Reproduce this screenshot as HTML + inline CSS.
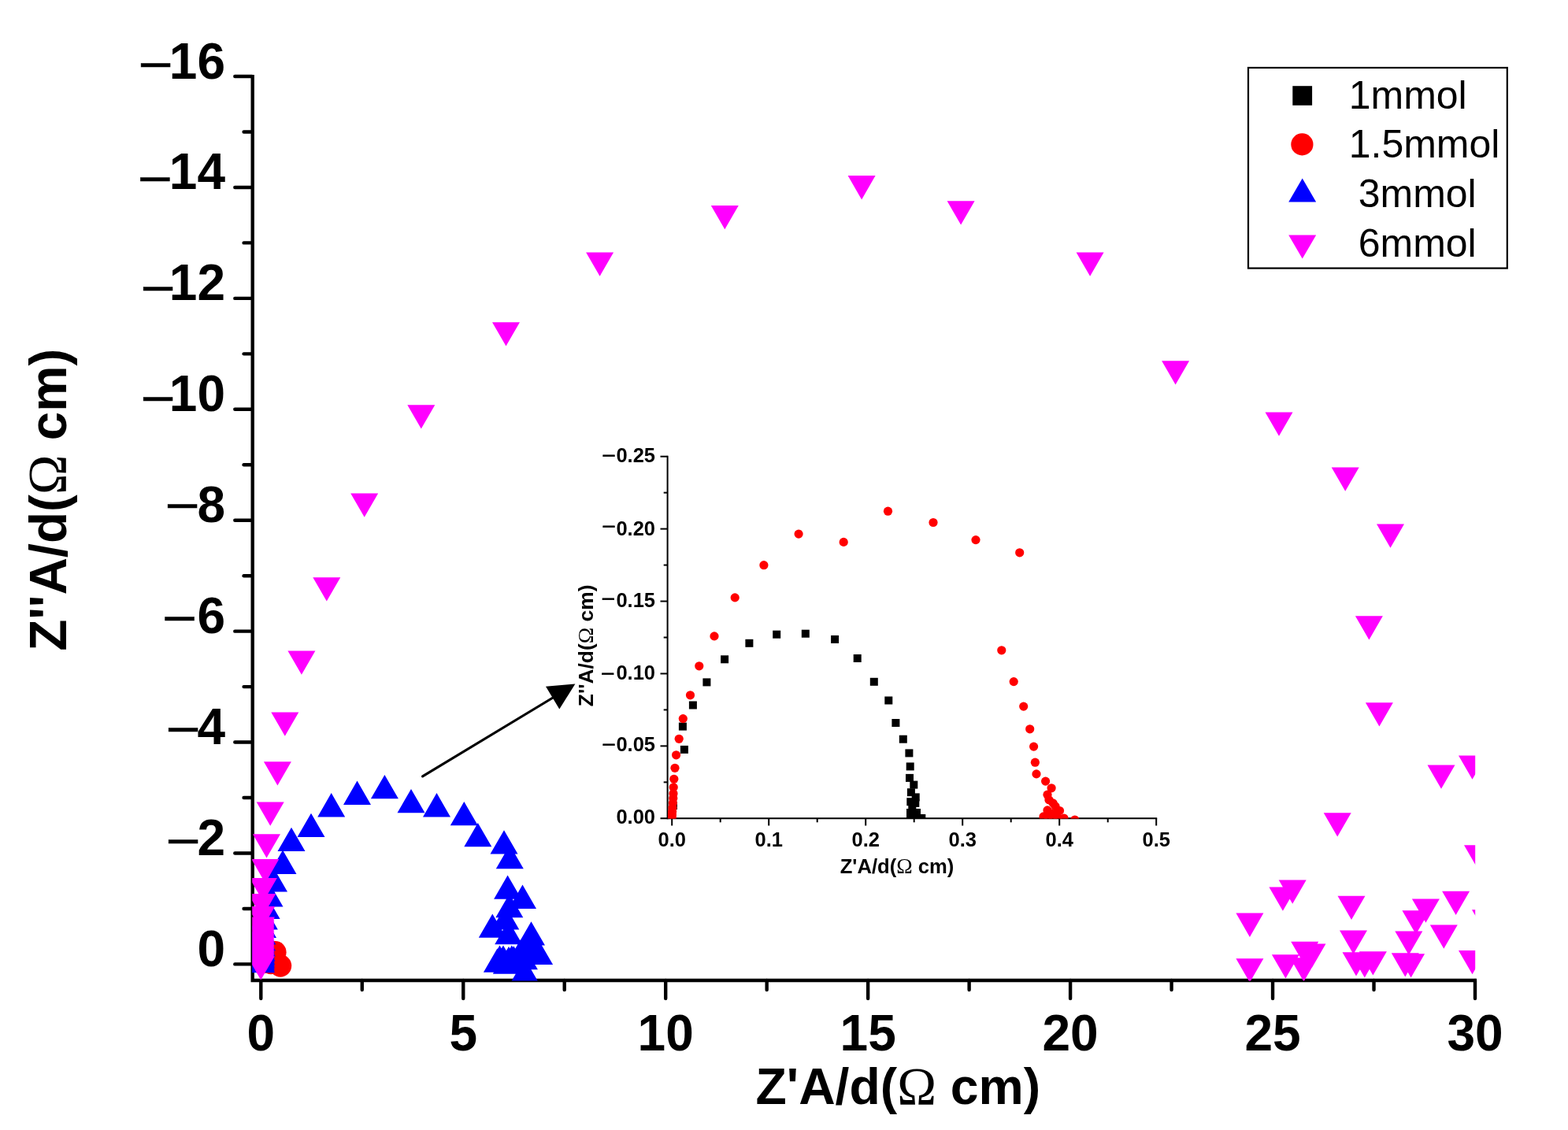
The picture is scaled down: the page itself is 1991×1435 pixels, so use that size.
<!DOCTYPE html>
<html lang="en"><head><meta charset="utf-8"><title>Nyquist plot</title>
<style>
html,body{margin:0;padding:0;background:#fff;}
body{width:1991px;height:1435px;overflow:hidden;}
svg{display:block;}
text{font-family:"Liberation Sans",sans-serif;fill:#000;}
.b{font-weight:700;}
.t{font-size:64px;}
.i{font-size:25.5px;}
.l{font-size:50px;}
.mn{font-weight:400;stroke:#000;stroke-width:0.5px;}
.mn2{font-weight:400;stroke:#000;stroke-width:0.6px;}
.om{font-family:"Liberation Serif","DejaVu Serif",serif;font-weight:400;}
.ax{stroke:#000;stroke-width:4.4;fill:none;}
.tk{stroke:#000;stroke-width:4.4;stroke-linecap:round;fill:none;}
.iax{stroke:#000;stroke-width:2;fill:none;}
.m{fill:#f0f;}.u{fill:#00f;}.r{fill:#f00;}.k{fill:#000;}
</style></head><body>
<svg width="1991" height="1435" viewBox="0 0 1991 1435">
<rect width="1991" height="1435" fill="#fff"/>
<defs>
<clipPath id="cm"><rect x="320.2" y="0" width="1553" height="1245.5"/></clipPath>
<clipPath id="ci"><rect x="847.8" y="500" width="700" height="539.6"/></clipPath>
</defs>
<g class="ax">
<path d="M320.7 95 V1245 H1875"/>
</g>
<g class="tk">
<path d="M298.3 1224.4 H320"/>
<path d="M309.6 1153.94 H320"/>
<path d="M298.3 1083.48 H320"/>
<path d="M309.6 1013.02 H320"/>
<path d="M298.3 942.56 H320"/>
<path d="M309.6 872.1 H320"/>
<path d="M298.3 801.64 H320"/>
<path d="M309.6 731.18 H320"/>
<path d="M298.3 660.72 H320"/>
<path d="M309.6 590.26 H320"/>
<path d="M298.3 519.8 H320"/>
<path d="M309.6 449.34 H320"/>
<path d="M298.3 378.88 H320"/>
<path d="M309.6 308.42 H320"/>
<path d="M298.3 237.96 H320"/>
<path d="M309.6 167.5 H320"/>
<path d="M298.3 97.04 H320"/>
<path d="M331.3 1245 V1268"/>
<path d="M459.77 1245 V1257"/>
<path d="M588.25 1245 V1268"/>
<path d="M716.73 1245 V1257"/>
<path d="M845.2 1245 V1268"/>
<path d="M973.67 1245 V1257"/>
<path d="M1102.15 1245 V1268"/>
<path d="M1230.62 1245 V1257"/>
<path d="M1359.1 1245 V1268"/>
<path d="M1487.58 1245 V1257"/>
<path d="M1616.05 1245 V1268"/>
<path d="M1744.52 1245 V1257"/>
<path d="M1873 1245 V1268"/>
</g>
<g class="b t" text-anchor="end">
<text text-anchor="start" x="250.41" y="1226.9">0</text>
<text text-anchor="start"><tspan class="mn" x="210.5" y="1089.9" textLength="44.3" lengthAdjust="spacingAndGlyphs">−</tspan><tspan x="250.41" y="1085.98">2</tspan></text>
<text text-anchor="start"><tspan class="mn" x="210.5" y="948.4" textLength="44.3" lengthAdjust="spacingAndGlyphs">−</tspan><tspan x="250.41" y="945.06">4</tspan></text>
<text text-anchor="start"><tspan class="mn" x="206" y="806.5" textLength="44.3" lengthAdjust="spacingAndGlyphs">−</tspan><tspan x="250.41" y="804.14">6</tspan></text>
<text text-anchor="start"><tspan class="mn" x="209.6" y="663.5" textLength="44.3" lengthAdjust="spacingAndGlyphs">−</tspan><tspan x="250.41" y="663.22">8</tspan></text>
<text text-anchor="start"><tspan class="mn" x="178.4" y="527.8" textLength="44.3" lengthAdjust="spacingAndGlyphs">−</tspan><tspan x="214.82" y="522.3">10</tspan></text>
<text text-anchor="start"><tspan class="mn" x="178.4" y="388.1" textLength="44.3" lengthAdjust="spacingAndGlyphs">−</tspan><tspan x="214.82" y="381.38">12</tspan></text>
<text text-anchor="start"><tspan class="mn" x="174.8" y="248.7" textLength="44.3" lengthAdjust="spacingAndGlyphs">−</tspan><tspan x="214.82" y="240.46">14</tspan></text>
<text text-anchor="start"><tspan class="mn" x="175.6" y="103.9" textLength="44.3" lengthAdjust="spacingAndGlyphs">−</tspan><tspan x="214.82" y="99.54">16</tspan></text>
</g>
<g class="b t" text-anchor="middle">
<text x="331.3" y="1334.2">0</text>
<text x="588.25" y="1334.2">5</text>
<text x="845.2" y="1334.2">10</text>
<text x="1102.15" y="1334.2">15</text>
<text x="1359.1" y="1334.2">20</text>
<text x="1616.05" y="1334.2">25</text>
<text x="1873" y="1334.2">30</text>
</g>
<text class="b t" x="959.6" y="1401.8" style="font-size:64.3px">Z'A/d(<tspan class="om" style="font-size:67px">Ω</tspan> cm)</text>
<text class="b t" transform="translate(84.3 826.8) rotate(-90) scale(1 1.03)" style="font-size:65.6px">Z''A/d(<tspan class="om" style="font-size:68px">Ω</tspan> cm)</text>
<g clip-path="url(#cm)">
<g class="r">
<circle cx="349.4" cy="1209.2" r="14.2"/>
<circle cx="356" cy="1226.5" r="14.2"/>
<circle cx="340" cy="1215" r="14.2"/>
<circle cx="334" cy="1222" r="14.2"/>
<circle cx="344" cy="1223" r="14.2"/>
</g>
<g class="u">
<path d="M488.4 984l17.5 30.3h-35zM453.5 991.6l17.5 30.3h-35zM420.7 1007.1l17.5 30.3h-35zM522 1001.9l17.5 30.3h-35zM554.5 1007.1l17.5 30.3h-35zM589.3 1017.9l17.5 30.3h-35zM395 1032.8l17.5 30.3h-35zM606.8 1044.9l17.5 30.3h-35zM370 1050.8l17.5 30.3h-35zM640 1054.3l17.5 30.3h-35zM647.3 1073l17.5 30.3h-35zM359 1079.6l17.5 30.3h-35zM347.5 1102.3l17.5 30.3h-35zM342 1121.3l17.5 30.3h-35zM338.1 1136.7l17.5 30.3h-35zM335.3 1150.2l17.5 30.3h-35zM333.5 1160.8l17.5 30.3h-35zM332.8 1169.2l17.5 30.3h-35zM332.5 1177.2l17.5 30.3h-35zM332.2 1184.2l17.5 30.3h-35zM332 1190.2l17.5 30.3h-35zM331.8 1195.2l17.5 30.3h-35zM331.6 1199.2l17.5 30.3h-35zM331.4 1205l17.5 30.3h-35zM331.3 1179.2l17.5 30.3h-35zM331.3 1181.2l17.5 30.3h-35zM331.3 1183.2l17.5 30.3h-35zM331.3 1185.2l17.5 30.3h-35zM331.3 1187.2l17.5 30.3h-35zM331.3 1189.2l17.5 30.3h-35zM331.3 1191.2l17.5 30.3h-35zM331.3 1193.2l17.5 30.3h-35zM331.3 1195.2l17.5 30.3h-35zM331.3 1197.2l17.5 30.3h-35zM331.3 1199.2l17.5 30.3h-35zM331.3 1201.2l17.5 30.3h-35zM331.3 1203.2l17.5 30.3h-35zM644.6 1111.5l17.5 30.3h-35zM663.5 1123.6l17.5 30.3h-35zM646.8 1135l17.5 30.3h-35zM625.3 1160.5l17.5 30.3h-35zM641.8 1150.2l17.5 30.3h-35zM674.5 1170.3l17.5 30.3h-35zM645.7 1169l17.5 30.3h-35zM684.6 1194.8l17.5 30.3h-35zM631.4 1204.4l17.5 30.3h-35zM634.5 1200.6l17.5 30.3h-35zM639 1200.6l17.5 30.3h-35zM646 1202l17.5 30.3h-35zM649.8 1200.6l17.5 30.3h-35zM652.3 1201.2l17.5 30.3h-35zM643.3 1206.5l17.5 30.3h-35zM650 1206.5l17.5 30.3h-35zM657 1206.5l17.5 30.3h-35zM665.4 1200.9l17.5 30.3h-35zM666.2 1217l17.5 30.3h-35zM661 1193l17.5 30.3h-35zM668 1188.7l17.5 30.3h-35zM674 1188.7l17.5 30.3h-35zM679 1189.7l17.5 30.3h-35z"/>
</g>
<g class="m">
<path d="M744.1 320.5h35l-17.5 30.3zM625 409.2h35l-17.5 30.3zM517.3 514.2h35l-17.5 30.3zM902.8 261h35l-17.5 30.3zM1076.6 223.1h35l-17.5 30.3zM1202.6 255.2h35l-17.5 30.3zM1366.6 320.5h35l-17.5 30.3zM1475.1 458.2h35l-17.5 30.3zM1606.5 523.5h35l-17.5 30.3zM445.2 626.5h35l-17.5 30.3zM397.3 733.3h35l-17.5 30.3zM365.4 826.5h35l-17.5 30.3zM344.3 904.5h35l-17.5 30.3zM1690.7 593.4h35l-17.5 30.3zM1748 665.5h35l-17.5 30.3zM1720.9 782.3h35l-17.5 30.3zM1733.9 892.2h35l-17.5 30.3zM1812.5 971.5h35l-17.5 30.3zM1852 959.4h35l-17.5 30.3zM1680.7 1032.3h35l-17.5 30.3zM1859 1073.2h35l-17.5 30.3zM1623.7 1117.4h35l-17.5 30.3zM1611.4 1126.4h35l-17.5 30.3zM1698.5 1137.7h35l-17.5 30.3zM1831.1 1131.7h35l-17.5 30.3zM1792.9 1141.5h35l-17.5 30.3zM1780.4 1156.3h35l-17.5 30.3zM1869 1155.3h35l-17.5 30.3zM1569.4 1159.6h35l-17.5 30.3zM1701 1181.4h35l-17.5 30.3zM1771.3 1182.4h35l-17.5 30.3zM1815.8 1174.4h35l-17.5 30.3zM1639.2 1195.7h35l-17.5 30.3zM1648.5 1198.5h35l-17.5 30.3zM1852 1207h35l-17.5 30.3zM1569.4 1217.3h35l-17.5 30.3zM1614.9 1212.3h35l-17.5 30.3zM1638 1216.3h35l-17.5 30.3zM1704.5 1209.3h35l-17.5 30.3zM1715.3 1211.3h35l-17.5 30.3zM1725.9 1208.3h35l-17.5 30.3zM1766.8 1210.3h35l-17.5 30.3zM1774.1 1211.3h35l-17.5 30.3zM334.9 967.3h35l-17.5 30.3zM325.7 1018.5h35l-17.5 30.3zM321 1059.3h35l-17.5 30.3zM319.3 1091.1h35l-17.5 30.3zM316.8 1115h35l-17.5 30.3zM315.2 1135.1h35l-17.5 30.3zM314.2 1151.1h35l-17.5 30.3zM313.9 1164.5h35l-17.5 30.3zM313.4 1166h35l-17.5 30.3zM313.4 1168h35l-17.5 30.3zM313.4 1170h35l-17.5 30.3zM313.4 1172h35l-17.5 30.3zM313.4 1174h35l-17.5 30.3zM313.4 1176h35l-17.5 30.3zM313.4 1178h35l-17.5 30.3zM313.4 1180h35l-17.5 30.3zM313.4 1182h35l-17.5 30.3zM313.4 1184h35l-17.5 30.3zM313.4 1186h35l-17.5 30.3zM313.4 1188h35l-17.5 30.3zM313.4 1190h35l-17.5 30.3zM313.4 1192h35l-17.5 30.3zM313.4 1194h35l-17.5 30.3zM313.4 1196h35l-17.5 30.3zM313.4 1198h35l-17.5 30.3zM313.4 1200h35l-17.5 30.3zM313.4 1202h35l-17.5 30.3zM313.4 1204h35l-17.5 30.3zM313.4 1206h35l-17.5 30.3zM313.4 1208h35l-17.5 30.3zM313.4 1210h35l-17.5 30.3zM313.4 1212h35l-17.5 30.3zM313.7 1214.2h35l-17.5 30.3z"/>
</g>
</g>
<path d="M536.6 985.9 L712 880" stroke="#000" stroke-width="3.2" stroke-linecap="round" fill="none"/>
<path d="M730.4 868.6 L693 871.8 L710.3 900.6 Z" fill="#000"/>
<rect x="1585" y="86" width="328.8" height="254.6" fill="#fff" stroke="#000" stroke-width="2.2"/>
<rect class="k" x="1641.3" y="109.2" width="24.8" height="24.6"/>
<circle class="r" cx="1653.4" cy="183.4" r="14.1"/>
<path class="u" d="M1653.7 226.4l17.5 30.2h-35z"/>
<path class="m" d="M1636.2 298.4h35l-17.5 30.1z"/>
<g class="l">
<text x="1712.7" y="137.8">1mmol</text>
<text x="1712.7" y="200.3">1.5mmol</text>
<text x="1724.7" y="262.7">3mmol</text>
<text x="1724.7" y="325.7">6mmol</text>
</g>
<g class="iax">
<path d="M847.6 578.7 V1040.3"/>
<path d="M838.5 1039.3 H1469.2"/>
<path d="M838.5 579.7 H847.6"/>
<path d="M842.7 625.66 H847.6"/>
<path d="M838.5 671.62 H847.6"/>
<path d="M842.7 717.58 H847.6"/>
<path d="M838.5 763.54 H847.6"/>
<path d="M842.7 809.5 H847.6"/>
<path d="M838.5 855.46 H847.6"/>
<path d="M842.7 901.42 H847.6"/>
<path d="M838.5 947.38 H847.6"/>
<path d="M842.7 993.34 H847.6"/>
<path d="M853.2 1039.3 V1048.5"/>
<path d="M914.7 1039.3 V1044.3"/>
<path d="M976.2 1039.3 V1048.5"/>
<path d="M1037.7 1039.3 V1044.3"/>
<path d="M1099.2 1039.3 V1048.5"/>
<path d="M1160.7 1039.3 V1044.3"/>
<path d="M1222.2 1039.3 V1048.5"/>
<path d="M1283.7 1039.3 V1044.3"/>
<path d="M1345.2 1039.3 V1048.5"/>
<path d="M1406.7 1039.3 V1044.3"/>
<path d="M1468.2 1039.3 V1048.5"/>
</g>
<g class="b i" text-anchor="end">
<text text-anchor="start"><tspan class="mn2" x="764.4" y="586.5" textLength="17.5" lengthAdjust="spacingAndGlyphs">−</tspan><tspan x="782.38" y="587.1">0.25</tspan></text>
<text text-anchor="start"><tspan class="mn2" x="764.4" y="676.9" textLength="17.5" lengthAdjust="spacingAndGlyphs">−</tspan><tspan x="782.38" y="680">0.20</tspan></text>
<text text-anchor="start"><tspan class="mn2" x="763.8" y="769.3" textLength="17.5" lengthAdjust="spacingAndGlyphs">−</tspan><tspan x="782.38" y="771">0.15</tspan></text>
<text text-anchor="start"><tspan class="mn2" x="763.2" y="863.5" textLength="17.5" lengthAdjust="spacingAndGlyphs">−</tspan><tspan x="782.38" y="862.7">0.10</tspan></text>
<text text-anchor="start"><tspan class="mn2" x="764.4" y="953.9" textLength="17.5" lengthAdjust="spacingAndGlyphs">−</tspan><tspan x="782.38" y="953.8">0.05</tspan></text>
<text text-anchor="start" x="782.38" y="1046">0.00</text>
</g>
<g class="b i" text-anchor="middle">
<text x="853.2" y="1074.7">0.0</text>
<text x="976.2" y="1074.7">0.1</text>
<text x="1099.2" y="1074.7">0.2</text>
<text x="1222.2" y="1074.7">0.3</text>
<text x="1345.2" y="1074.7">0.4</text>
<text x="1468.2" y="1074.7">0.5</text>
</g>
<text class="b i" x="1066.7" y="1109.3" style="font-size:25.6px">Z'A/d(<tspan class="om" style="font-size:27.5px">Ω</tspan> cm)</text>
<text class="b i" transform="translate(753.1 897.2) rotate(-90)" style="font-size:26.4px">Z''A/d(<tspan class="om" style="font-size:27.5px">Ω</tspan> cm)</text>
<g clip-path="url(#ci)">
<g class="k">
<rect x="915.1" y="832.3" width="10" height="10"/>
<rect x="946.4" y="811.8" width="10" height="10"/>
<rect x="981.2" y="800.7" width="10" height="10"/>
<rect x="1017.8" y="799.7" width="10" height="10"/>
<rect x="1055.1" y="806.9" width="10" height="10"/>
<rect x="1083.7" y="831" width="10" height="10"/>
<rect x="892.4" y="861.4" width="10" height="10"/>
<rect x="874.9" y="890.5" width="10" height="10"/>
<rect x="861.9" y="917.6" width="10" height="10"/>
<rect x="863.9" y="946.9" width="10" height="10"/>
<rect x="850" y="1018" width="10" height="10"/>
<rect x="1104.8" y="860.8" width="10" height="10"/>
<rect x="1123.3" y="884.5" width="10" height="10"/>
<rect x="1132.4" y="913" width="10" height="10"/>
<rect x="1141.8" y="933.7" width="10" height="10"/>
<rect x="1149.4" y="951.4" width="10" height="10"/>
<rect x="1150.7" y="968.4" width="10" height="10"/>
<rect x="1150" y="982.9" width="10" height="10"/>
<rect x="1155.3" y="991.6" width="10" height="10"/>
<rect x="1151.9" y="1001.2" width="10" height="10"/>
<rect x="1157.7" y="1007.4" width="10" height="10"/>
<rect x="1151.3" y="1013.2" width="10" height="10"/>
<rect x="1157.3" y="1014.9" width="10" height="10"/>
<rect x="1153.3" y="1022.9" width="10" height="10"/>
<rect x="1151" y="1027" width="10" height="10"/>
<rect x="1155" y="1027" width="10" height="10"/>
<rect x="1159" y="1027" width="10" height="10"/>
<rect x="1151" y="1032" width="10" height="10"/>
<rect x="1158" y="1032" width="10" height="10"/>
<rect x="1165.3" y="1034" width="10" height="10"/>
</g>
<g class="r">
<circle cx="1014.1" cy="678.1" r="5.6"/>
<circle cx="1071.2" cy="688.4" r="5.6"/>
<circle cx="969.9" cy="717.7" r="5.6"/>
<circle cx="933.2" cy="758.9" r="5.6"/>
<circle cx="907" cy="807.9" r="5.6"/>
<circle cx="887.8" cy="845.8" r="5.6"/>
<circle cx="1127.5" cy="649.2" r="5.6"/>
<circle cx="1185" cy="663.5" r="5.6"/>
<circle cx="1239" cy="685.6" r="5.6"/>
<circle cx="1294.7" cy="701.8" r="5.6"/>
<circle cx="1271.8" cy="825.8" r="5.6"/>
<circle cx="876.5" cy="882.8" r="5.6"/>
<circle cx="867.3" cy="912.6" r="5.6"/>
<circle cx="862.2" cy="938.3" r="5.6"/>
<circle cx="858.6" cy="958.8" r="5.6"/>
<circle cx="857" cy="975.3" r="5.6"/>
<circle cx="855.8" cy="989.3" r="5.6"/>
<circle cx="855.2" cy="999.8" r="5.6"/>
<circle cx="855" cy="1007.8" r="5.6"/>
<circle cx="854.8" cy="1013.8" r="5.6"/>
<circle cx="854.4" cy="1019.8" r="5.6"/>
<circle cx="854" cy="1025.8" r="5.6"/>
<circle cx="853.6" cy="1030.8" r="5.6"/>
<circle cx="853.4" cy="1034.8" r="5.6"/>
<circle cx="853.3" cy="1038" r="5.6"/>
<circle cx="1287.2" cy="865.6" r="5.6"/>
<circle cx="1299.7" cy="897.1" r="5.6"/>
<circle cx="1307.7" cy="925.8" r="5.6"/>
<circle cx="1312.6" cy="948.1" r="5.6"/>
<circle cx="1314.4" cy="968.2" r="5.6"/>
<circle cx="1316" cy="982.9" r="5.6"/>
<circle cx="1327.6" cy="992.1" r="5.6"/>
<circle cx="1335.1" cy="1000.8" r="5.6"/>
<circle cx="1330" cy="1009.2" r="5.6"/>
<circle cx="1332" cy="1015.8" r="5.6"/>
<circle cx="1337.1" cy="1019.9" r="5.6"/>
<circle cx="1340.1" cy="1023.9" r="5.6"/>
<circle cx="1330" cy="1028.9" r="5.6"/>
<circle cx="1345.5" cy="1029.5" r="5.6"/>
<circle cx="1335" cy="1033" r="5.6"/>
<circle cx="1341" cy="1034" r="5.6"/>
<circle cx="1325" cy="1036.9" r="5.6"/>
<circle cx="1331" cy="1036.9" r="5.6"/>
<circle cx="1337" cy="1038" r="5.6"/>
<circle cx="1343" cy="1038" r="5.6"/>
<circle cx="1351" cy="1039" r="5.6"/>
<circle cx="1364.8" cy="1041" r="5.6"/>
</g>
</g>
</svg>
</body></html>
